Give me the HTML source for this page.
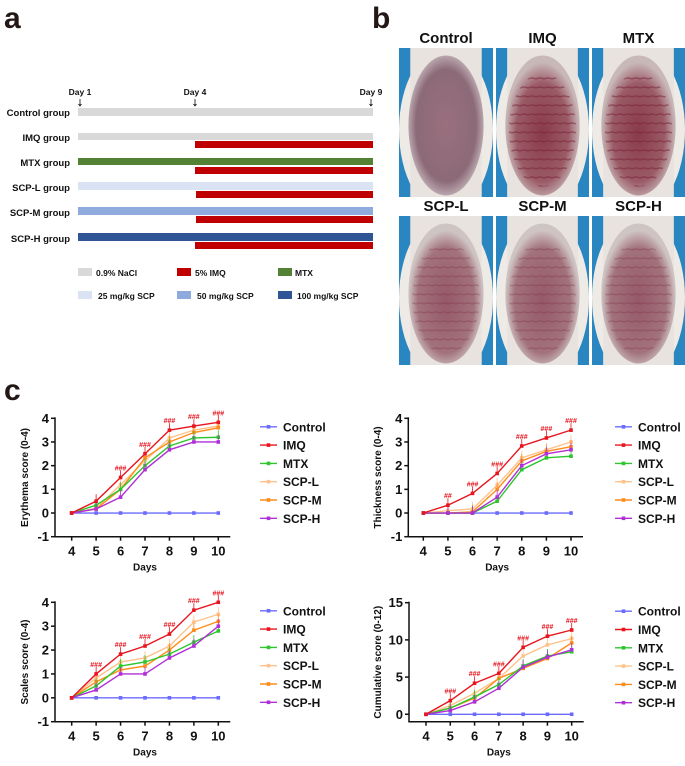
<!DOCTYPE html>
<html><head><meta charset="utf-8"><style>
html,body{margin:0;padding:0;background:#fff;}
svg text{font-family:"Liberation Sans",Arial,sans-serif;font-weight:bold;}
</style></head><body>
<svg id="fig" width="685" height="761" viewBox="0 0 685 761" xmlns="http://www.w3.org/2000/svg">
<defs>
<radialGradient id="skinC" cx="50%" cy="50%" r="50%"><stop offset="0%" stop-color="#9a6f7e"/><stop offset="80%" stop-color="#8c6a78"/><stop offset="100%" stop-color="#b9a6ad"/></radialGradient>
<radialGradient id="skinI" cx="50%" cy="55%" r="50%"><stop offset="0%" stop-color="#8a3a4a"/><stop offset="70%" stop-color="#9a5a66"/><stop offset="100%" stop-color="#c8b8b8"/></radialGradient>
<radialGradient id="skinS" cx="50%" cy="55%" r="50%"><stop offset="0%" stop-color="#95586a"/><stop offset="75%" stop-color="#a2727c"/><stop offset="100%" stop-color="#cfc4c4"/></radialGradient>
<pattern id="stripes" width="8" height="9" patternUnits="userSpaceOnUse"><rect width="8" height="9" fill="none"/><path d="M0 7 Q4 5 8 7" stroke="#7a2535" stroke-width="1.6" fill="none" opacity="0.6"/></pattern>
</defs>

<!-- Panel a -->
<text x="4" y="28" font-size="30" fill="#231815">a</text>
<g font-size="8.5" fill="#111">
<text x="80" y="95" text-anchor="middle">Day 1</text>
<text x="195" y="95" text-anchor="middle">Day 4</text>
<text x="371" y="95" text-anchor="middle">Day 9</text>
<path d="M80 99v7M78.5 104l1.5 2 1.5-2M195 99v7M193.5 104l1.5 2 1.5-2M371 99v7M369.5 104l1.5 2 1.5-2" stroke="#111" stroke-width="0.8" fill="none"/>
<g font-size="9.5" text-anchor="end">
<text x="70" y="116">Control group</text>
<text x="70" y="141">IMQ group</text>
<text x="70" y="166">MTX group</text>
<text x="70" y="191">SCP-L group</text>
<text x="70" y="216">SCP-M group</text>
<text x="70" y="242">SCP-H group</text>
</g>
<rect x="78" y="108" width="295" height="8" fill="#d9d9d9"/>
<rect x="78" y="133" width="295" height="7" fill="#d9d9d9"/>
<rect x="195" y="141" width="178" height="7" fill="#c00000"/>
<rect x="78" y="158" width="295" height="7" fill="#548235"/>
<rect x="195" y="167" width="178" height="7" fill="#c00000"/>
<rect x="78" y="182" width="295" height="8" fill="#dae3f3"/>
<rect x="196" y="191" width="177" height="7" fill="#c00000"/>
<rect x="78" y="207" width="295" height="8" fill="#8faadc"/>
<rect x="196" y="216" width="177" height="7" fill="#c00000"/>
<rect x="78" y="233" width="295" height="8" fill="#2f5597"/>
<rect x="195" y="242" width="178" height="7" fill="#c00000"/>
<g font-size="8.5">
<rect x="78" y="268" width="14" height="8" fill="#d9d9d9"/><text x="96" y="276">0.9% NaCl</text>
<rect x="177" y="268" width="14" height="8" fill="#c00000"/><text x="195" y="276">5% IMQ</text>
<rect x="278" y="268" width="14" height="8" fill="#548235"/><text x="295" y="276">MTX</text>
<rect x="78" y="291" width="14" height="8" fill="#dae3f3"/><text x="98" y="299">25 mg/kg SCP</text>
<rect x="177" y="291" width="14" height="8" fill="#8faadc"/><text x="197" y="299">50 mg/kg SCP</text>
<rect x="278" y="291" width="14" height="8" fill="#2f5597"/><text x="297" y="299">100 mg/kg SCP</text>
</g>
</g>

<!-- Panel b -->
<text x="372" y="28" font-size="30" fill="#231815">b</text>
<g id="photos"></g>

<!-- Panel c -->
<text x="4" y="400" font-size="30" fill="#231815">c</text>
<g id="charts"></g>
</svg>
<script>
const NS='http://www.w3.org/2000/svg';
function mk(tag,attrs,parent){const e=document.createElementNS(NS,tag);for(const k in attrs)e.setAttribute(k,attrs[k]);if(parent)parent.appendChild(e);return e;}

// ---------- photos ----------
const photoNames=['Control','IMQ','MTX','SCP-L','SCP-M','SCP-H'];
const photoBoxes=[[399,48,94,149],[496,48,93,149],[592,48,93,149],[399,216,94,149],[496,216,93,149],[592,216,93,149]];
const photoSkin=['skinC','skinI','skinI','skinS','skinS','skinS'];
const pg=document.getElementById('photos');
photoBoxes.forEach((b,i)=>{
  const [x,y,w,h]=b;
  const g=mk('g',{},pg);
  
  
  const cid='clip'+i;
  const cp=mk('clipPath',{id:cid},g);mk('rect',{x:x,y:y,width:w,height:h},cp);
  const inner=mk('g',{'clip-path':'url(#'+cid+')'},g);
  mk('rect',{x:x,y:y,width:w,height:h,fill:'#2a86c0'},inner);
  mk('ellipse',{cx:x+w/2,cy:y+h*0.55,rx:w*0.5,ry:h*0.56,fill:'#eeeae6'},inner);
  mk('rect',{x:x+w*0.12,y:y,width:w*0.76,height:h,fill:'#e8e3df'},inner);
  mk('ellipse',{cx:x+w/2,cy:y+h*0.52,rx:w*0.4,ry:h*0.47,fill:'url(#'+photoSkin[i]+')'},inner);
  if(i>0) mk('ellipse',{cx:x+w/2,cy:y+h*0.55,rx:w*0.36,ry:h*0.38,fill:'url(#stripes)',opacity:i<3?0.9:0.45},inner);
  const t=mk('text',{x:x+w/2,y:y-5,'text-anchor':'middle','font-size':'15',fill:'#111'},pg);
  t.textContent=photoNames[i];
  
  
});

// ---------- chart data ----------
const days=[4,5,6,7,8,9,10];
const seriesNames=['Control','IMQ','MTX','SCP-L','SCP-M','SCP-H'];
const seriesColors=['#6b6bff','#e8141e','#2ec62e','#ffc28a','#ff8c1a','#b12fd6'];

const eryControl=[0,0,0,0,0,0,0];
const eryIMQ=[0,0.5,1.5,2.5,3.5,3.67,3.83];
const eryMTX=[0,0.33,1.0,2.0,2.83,3.17,3.2];
const erySCPL=[0,0.2,1.2,2.2,3.17,3.5,3.67];
const erySCPM=[0,0.17,1.0,2.33,3.0,3.4,3.6];
const erySCPH=[0,0.17,0.67,1.83,2.67,3.0,3.0];

const thkControl=[0,0,0,0,0,0,0];
const thkIMQ=[0,0.33,0.83,1.67,2.83,3.17,3.5];
const thkMTX=[0,0,0,0.5,1.83,2.33,2.4];
const thkSCPL=[0,0.1,0.17,1.17,2.33,2.67,3.0];
const thkSCPM=[0,0,0.05,1.0,2.2,2.6,2.8];
const thkSCPH=[0,0,0,0.67,2.0,2.5,2.67];

const sclControl=[0,0,0,0,0,0,0];
const sclIMQ=[0,1.0,1.83,2.17,2.67,3.67,4.0];
const sclMTX=[0,0.5,1.33,1.5,1.83,2.33,2.8];
const sclSCPL=[0,0.83,1.5,1.67,2.17,3.17,3.5];
const sclSCPM=[0,0.67,1.17,1.33,2.0,2.83,3.2];
const sclSCPH=[0,0.33,1.0,1.0,1.67,2.17,3.0];

const cumControl=[0,0,0,0,0,0,0];
const cumIMQ=[0,1.83,4.17,5.5,9.0,10.5,11.33];
const cumMTX=[0,0.83,2.33,4.0,6.5,7.83,8.4];
const cumSCPL=[0,1.17,2.83,4.83,7.83,9.33,10.17];
const cumSCPM=[0,0.83,2.17,4.83,6.17,7.5,9.6];
const cumSCPH=[0,0.5,1.67,3.5,6.33,7.67,8.67];

const ticks04=[-1,0,1,2,3,4];
const ticksCum=[0,5,10,15];
const eryHash=['','','###','###','###','###','###'];
const thkHash=['','##','###','###','###','###','###'];
const sclHash=['','###','###','###','###','###','###'];
const cumHash=['','###','###','###','###','###','###'];

const charts=[
 {id:'erythema',title:'Erythema score (0-4)',ax:55,x0:71.7,x1:218.3,yTop:418.3,yBot:536.7,ymin:-1,ymax:4,ticks:ticks04,data:[eryControl,eryIMQ,eryMTX,erySCPL,erySCPM,erySCPH],hash:eryHash,titleX:28,legX:260},
 {id:'thickness',title:'Thickness score (0-4)',ax:408.3,x0:423.3,x1:571,yTop:418.3,yBot:536.7,ymin:-1,ymax:4,ticks:ticks04,data:[thkControl,thkIMQ,thkMTX,thkSCPL,thkSCPM,thkSCPH],hash:thkHash,titleX:381,legX:615},
 {id:'scales',title:'Scales score (0-4)',ax:55,x0:71.7,x1:218.3,yTop:602.3,yBot:721.7,ymin:-1,ymax:4,ticks:ticks04,data:[sclControl,sclIMQ,sclMTX,sclSCPL,sclSCPM,sclSCPH],hash:sclHash,titleX:28,legX:260},
 {id:'cumulative',title:'Cumulative score (0-12)',ax:409,x0:426,x1:571.7,yTop:602.7,yBot:721.7,ymin:-1,ymax:15,ticks:ticksCum,data:[cumControl,cumIMQ,cumMTX,cumSCPL,cumSCPM,cumSCPH],hash:cumHash,titleX:381,legX:615}
];

const cg=document.getElementById('charts');
charts.forEach(c=>{
  const g=mk('g',{},cg);
  
  
  const xs=d=>c.x0+(d-days[0])*(c.x1-c.x0)/(days[days.length-1]-days[0]);
  const ys=v=>c.yBot-(v-c.ymin)*(c.yBot-c.yTop)/(c.ymax-c.ymin);
  const ya=mk('line',{x1:c.ax,y1:ys(c.ticks[c.ticks.length-1])-1,x2:c.ax,y2:c.yBot,stroke:'#111','stroke-width':1.5},g);
  
  const xa=mk('line',{x1:c.ax-0.7,y1:c.yBot,x2:c.x1+12,y2:c.yBot,stroke:'#111','stroke-width':1.5},g);
  
  c.ticks.forEach(t=>{
    mk('line',{x1:c.ax-4,y1:ys(t),x2:c.ax,y2:ys(t),stroke:'#111','stroke-width':1.5},g);
    const tl=mk('text',{x:c.ax-6,y:ys(t)+4.5,'text-anchor':'end','font-size':'13',fill:'#111'},g);
    tl.textContent=t;
    
  });
  days.forEach(d=>{
    mk('line',{x1:xs(d),y1:c.yBot,x2:xs(d),y2:c.yBot+4,stroke:'#111','stroke-width':1.5},g);
    const tl=mk('text',{x:xs(d),y:c.yBot+19,'text-anchor':'middle','font-size':'13',fill:'#111'},g);
    tl.textContent=d;
    
  });
  const xt=mk('text',{x:(c.x0+c.x1)/2,y:c.yBot+34,'text-anchor':'middle','font-size':'10',fill:'#111'},g);
  xt.textContent='Days';
  
  const cy=(ys(c.ticks[c.ticks.length-1])+c.yBot)/2;
  const yt=mk('text',{x:c.titleX,y:cy,'text-anchor':'middle','font-size':'10',fill:'#111',transform:'rotate(-90 '+c.titleX+' '+cy+')'},g);
  yt.textContent=c.title;
  
  const order=[0,3,4,2,5,1];
  order.forEach(si=>{
    const vals=c.data[si];
    const pts=days.map((d,i)=>xs(d)+','+ys(vals[i])).join(' ');
    const pl=mk('polyline',{points:pts,fill:'none',stroke:seriesColors[si],'stroke-width':1.4},g);
    
    
    days.forEach((d,i)=>{
      const m=mk('rect',{x:xs(d)-1.8,y:ys(vals[i])-1.8,width:3.6,height:3.6,fill:seriesColors[si]},g);
      
      
      if(si>0&&i>0){
        mk('line',{x1:xs(d),y1:ys(vals[i]),x2:xs(d),y2:ys(vals[i])-7,stroke:seriesColors[si],'stroke-width':0.8},g);
      }
    });
  });
  days.forEach((d,i)=>{
    if(!c.hash[i])return;
    const h=mk('text',{x:xs(d),y:ys(c.data[1][i])-7,'text-anchor':'middle','font-size':'7',fill:'#e8141e'},g);
    h.textContent=c.hash[i];
    
  });
  seriesNames.forEach((n,k)=>{
    const ly=c.yTop+8.5+k*18.3;
    const lg=mk('g',{},g);
    
    
    mk('line',{x1:c.legX,y1:ly,x2:c.legX+17,y2:ly,stroke:seriesColors[k],'stroke-width':1.4},lg);
    mk('rect',{x:c.legX+6.7,y:ly-1.8,width:3.6,height:3.6,fill:seriesColors[k]},lg);
    const t=mk('text',{x:c.legX+23,y:ly+4.5,'font-size':'12',fill:'#111'},lg);
    t.textContent=n;
  });
});
</script>
</body></html>
